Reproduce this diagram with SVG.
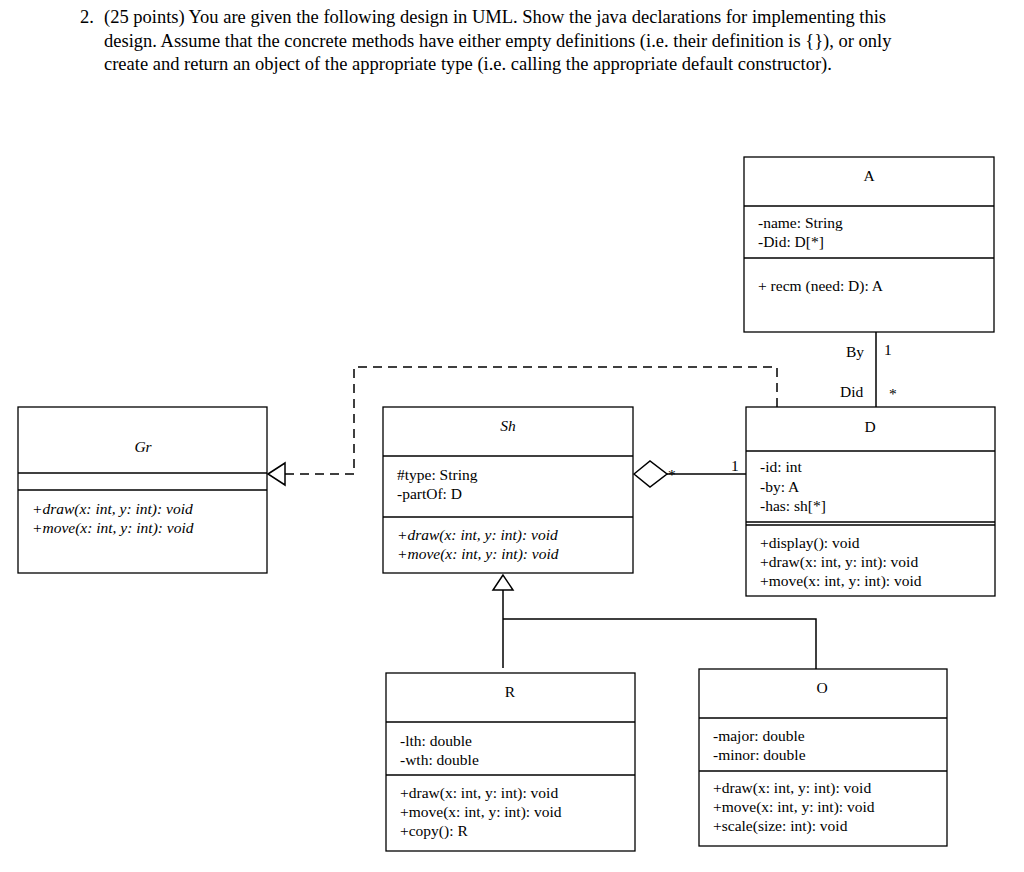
<svg xmlns="http://www.w3.org/2000/svg" width="1024" height="872" viewBox="0 0 1024 872">
<style>
text{font-family:"Liberation Serif","Times New Roman",serif;font-size:15.5px;fill:#000}
.h{font-size:18.5px}
.c{text-anchor:middle}
.i{font-style:italic}
.box{fill:#fff;stroke:#000;stroke-width:1.3}
.ln{fill:none;stroke:#000;stroke-width:1.5}
</style>
<rect width="1024" height="872" fill="#fff"/>
<g id="header">
<text class="h" x="80" y="23">2.</text>
<text class="h" x="104" y="23">(25 points) You are given the following design in UML. Show the java declarations for implementing this</text>
<text class="h" x="104" y="47">design. Assume that the concrete methods have either empty definitions (i.e. their definition is {}), or only</text>
<text class="h" x="104" y="70">create and return an object of the appropriate type (i.e. calling the appropriate default constructor).</text>
</g>
<g id="connectors">
<line class="ln" x1="876" y1="332" x2="876" y2="407"/>
<text x="846" y="357">By</text><text x="884" y="355">1</text>
<text x="840" y="397">Did</text><text x="889" y="399">*</text>
<polyline class="ln" stroke-dasharray="9,6" points="777,407 777,367 354,367 354,474 285,474"/>
<polygon class="ln" fill="#fff" points="268,474 285,463 285,485"/>
<polygon class="ln" fill="#fff" points="634,474 650,461 667,474 650,487"/>
<line class="ln" x1="667" y1="474" x2="746" y2="474"/>
<text x="668" y="480">*</text><text x="731" y="471">1</text>
<polygon class="ln" fill="#fff" points="503,575 493,590 513,590"/>
<line class="ln" x1="503" y1="590" x2="503" y2="668"/>
<polyline class="ln" points="503,619 816,619 816,669"/>
</g>
<g id="A">
<rect class="box" x="744" y="157" width="250" height="175"/>
<line class="ln" x1="744" y1="206" x2="994" y2="206"/><line class="ln" x1="744" y1="258" x2="994" y2="258"/>
<text class="c" x="869" y="181">A</text>
<text x="758" y="228">-name: String</text><text x="758" y="247">-Did: D[*]</text>
<text x="758" y="291">+ recm (need: D): A</text>
</g>
<g id="D">
<rect class="box" x="746" y="407" width="249" height="189"/>
<line class="ln" x1="746" y1="451" x2="995" y2="451"/>
<line class="ln" x1="746" y1="522" x2="995" y2="522"/><line class="ln" x1="746" y1="525" x2="995" y2="525"/>
<text class="c" x="870" y="432">D</text>
<text x="760" y="472">-id: int</text><text x="760" y="492">-by: A</text><text x="760" y="511">-has: sh[*]</text>
<text x="760" y="548">+display(): void</text><text x="760" y="567">+draw(x: int, y: int): void</text><text x="760" y="586">+move(x: int, y: int): void</text>
</g>
<g id="Sh">
<rect class="box" x="383" y="407" width="250" height="166"/>
<line class="ln" x1="383" y1="456" x2="633" y2="456"/><line class="ln" x1="383" y1="517" x2="633" y2="517"/>
<text class="c i" x="508" y="431">Sh</text>
<text x="397" y="480">#type: String</text><text x="397" y="499">-partOf: D</text>
<text class="i" x="397" y="540">+draw(x: int, y: int): void</text><text class="i" x="397" y="559">+move(x: int, y: int): void</text>
</g>
<g id="Gr">
<rect class="box" x="18" y="407" width="249" height="166"/>
<line class="ln" x1="18" y1="473" x2="267" y2="473"/><line class="ln" x1="18" y1="490" x2="267" y2="490"/>
<text class="c i" x="143" y="452">Gr</text>
<text class="i" x="32" y="514">+draw(x: int, y: int): void</text><text class="i" x="32" y="533">+move(x: int, y: int): void</text>
</g>
<g id="R">
<rect class="box" x="386" y="673" width="249" height="178"/>
<line class="ln" x1="386" y1="722" x2="635" y2="722"/><line class="ln" x1="386" y1="775" x2="635" y2="775"/>
<text class="c" x="510" y="697">R</text>
<text x="400" y="746">-lth: double</text><text x="400" y="765">-wth: double</text>
<text x="400" y="798">+draw(x: int, y: int): void</text><text x="400" y="817">+move(x: int, y: int): void</text><text x="400" y="836">+copy(): R</text>
</g>
<g id="O">
<rect class="box" x="699" y="669" width="248" height="177"/>
<line class="ln" x1="699" y1="718" x2="947" y2="718"/><line class="ln" x1="699" y1="771" x2="947" y2="771"/>
<text class="c" x="822" y="693">O</text>
<text x="713" y="741">-major: double</text><text x="713" y="760">-minor: double</text>
<text x="713" y="793">+draw(x: int, y: int): void</text><text x="713" y="812">+move(x: int, y: int): void</text><text x="713" y="831">+scale(size: int): void</text>
</g>
</svg>
